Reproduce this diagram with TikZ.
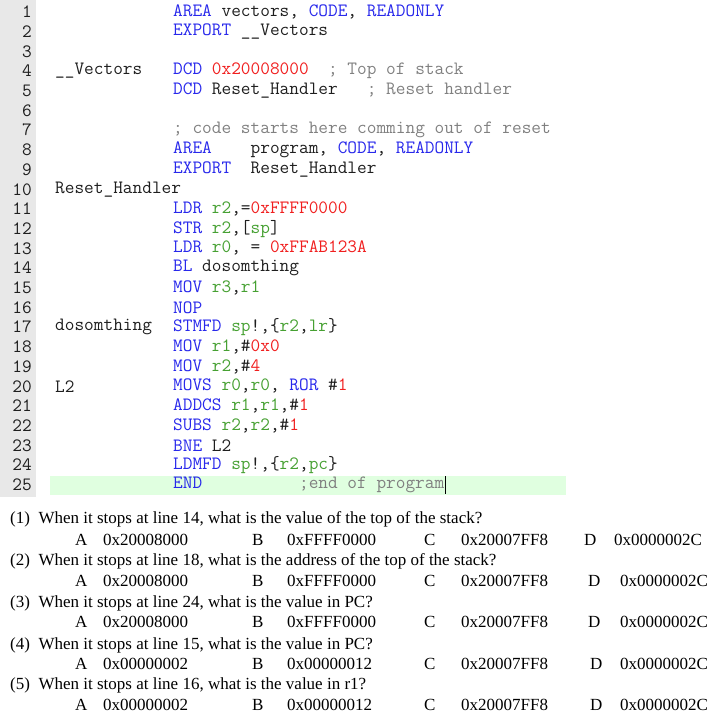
\documentclass[tikz,border=0pt]{standalone}
\usepackage{fontspec}
\setmainfont{Liberation Serif}
\definecolor{kwc}{RGB}{40,40,235}
\definecolor{nmc}{RGB}{240,30,30}
\definecolor{rgc}{RGB}{70,160,50}
\definecolor{cmc}{RGB}{128,128,128}
\definecolor{txc}{RGB}{30,30,30}
\newcommand{\kw}[1]{\textcolor{kwc}{#1}}
\newcommand{\nm}[1]{\textcolor{nmc}{#1}}
\newcommand{\rg}[1]{\textcolor{rgc}{#1}}
\newcommand{\cm}[1]{\textcolor{cmc}{#1}}
\begin{document}
\begin{tikzpicture}[x=1pt,y=-1pt,
  code/.style={anchor=west,inner sep=0pt,font=\ttfamily\fontsize{18.8}{20}\selectfont,text=txc},
  lnum/.style={anchor=east,inner sep=0pt,font=\ttfamily\fontsize{18.8}{20}\selectfont,text=txc},
  q/.style={anchor=west,inner sep=0pt,font=\fontsize{17}{19}\selectfont}]
\useasboundingbox (0,0) rectangle (722,722);
\fill[gray!18] (0,0) rectangle (36,497);
\fill[green!12] (50,476) rectangle (566,495);
\foreach \i in {1,...,25} {\node[lnum] (n\i) at (32,{12+(\i-1)*19.7}) {\i};}
\newcommand{\CodeLine}[2]{\node[code] (c#1) at (173,{12+(#1-1)*19.7}) {#2};}
\newcommand{\LabelLine}[2]{\node[code] (lb#1) at (55,{12+(#1-1)*19.7}) {#2};}
\CodeLine{1}{\kw{AREA} vectors, \kw{CODE}, \kw{READONLY}}
\CodeLine{2}{\kw{EXPORT} \_\_Vectors}
\LabelLine{4}{\_\_Vectors}
\CodeLine{4}{\kw{DCD} \nm{0x20008000} \ \cm{; Top of stack}}
\CodeLine{5}{\kw{DCD} Reset\_Handler \ \ \cm{; Reset handler}}
\CodeLine{7}{\cm{; code starts here comming out of reset}}
\CodeLine{8}{\kw{AREA} \ \ \ program, \kw{CODE}, \kw{READONLY}}
\CodeLine{9}{\kw{EXPORT} \ Reset\_Handler}
\LabelLine{10}{Reset\_Handler}
\CodeLine{11}{\kw{LDR} \rg{r2},=\nm{0xFFFF0000}}
\CodeLine{12}{\kw{STR} \rg{r2},[\rg{sp}]}
\CodeLine{13}{\kw{LDR} \rg{r0}, = \nm{0xFFAB123A}}
\CodeLine{14}{\kw{BL} dosomthing}
\CodeLine{15}{\kw{MOV} \rg{r3},\rg{r1}}
\CodeLine{16}{\kw{NOP}}
\LabelLine{17}{dosomthing}
\CodeLine{17}{\kw{STMFD} \rg{sp}!,\{\rg{r2},\rg{lr}\}}
\CodeLine{18}{\kw{MOV} \rg{r1},\#\nm{0x0}}
\CodeLine{19}{\kw{MOV} \rg{r2},\#\nm{4}}
\LabelLine{20}{L2}
\CodeLine{20}{\kw{MOVS} \rg{r0},\rg{r0}, \kw{ROR} \#\nm{1}}
\CodeLine{21}{\kw{ADDCS} \rg{r1},\rg{r1},\#\nm{1}}
\CodeLine{22}{\kw{SUBS} \rg{r2},\rg{r2},\#\nm{1}}
\CodeLine{23}{\kw{BNE} L2}
\CodeLine{24}{\kw{LDMFD} \rg{sp}!,\{\rg{r2},\rg{pc}\}}
\CodeLine{25}{\kw{END} \ \ \ \ \ \ \ \ \ \cm{;end of program}}
\coordinate (cur) at ([xshift=0.5pt]c25.east);
\draw[line width=1pt] ([yshift=-9pt]cur) -- ([yshift=9pt]cur);
% questions
\node[q] (q1) at (10,519) {(1)\ \ When it stops at line 14, what is the value of the top of the stack?};
\node[q] (q2) at (10,561) {(2)\ \ When it stops at line 18, what is the address of the top of the stack?};
\node[q] (q3) at (10,603) {(3)\ \ When it stops at line 24, what is the value in PC?};
\node[q] (q4) at (10,645) {(4)\ \ When it stops at line 15, what is the value in PC?};
\node[q] (q5) at (10,685) {(5)\ \ When it stops at line 16, what is the value in r1?};
\newcommand{\OptRow}[8]{%
 \node[q] (oa#1) at (75,#2) {A}; \node[q] (av#1) at (103,#2) {#3};
 \node[q] (ob#1) at (252,#2) {B}; \node[q] (bv#1) at (287,#2) {#4};
 \node[q] (oc#1) at (424,#2) {C}; \node[q] (cv#1) at (461,#2) {#5};
 \node[q] (od#1) at (#7,#2) {D}; \node[q] (dv#1) at (#8,#2) {#6};}
\OptRow{1}{540}{0x20008000}{0xFFFF0000}{0x20007FF8}{0x0000002C}{584}{614}
\OptRow{2}{581}{0x20008000}{0xFFFF0000}{0x20007FF8}{0x0000002C}{588}{620}
\OptRow{3}{622}{0x20008000}{0xFFFF0000}{0x20007FF8}{0x0000002C}{588}{620}
\OptRow{4}{664}{0x00000002}{0x00000012}{0x20007FF8}{0x0000002C}{590}{620}
\OptRow{5}{705}{0x00000002}{0x00000012}{0x20007FF8}{0x0000002C}{590}{620}
\end{tikzpicture}
\end{document}
